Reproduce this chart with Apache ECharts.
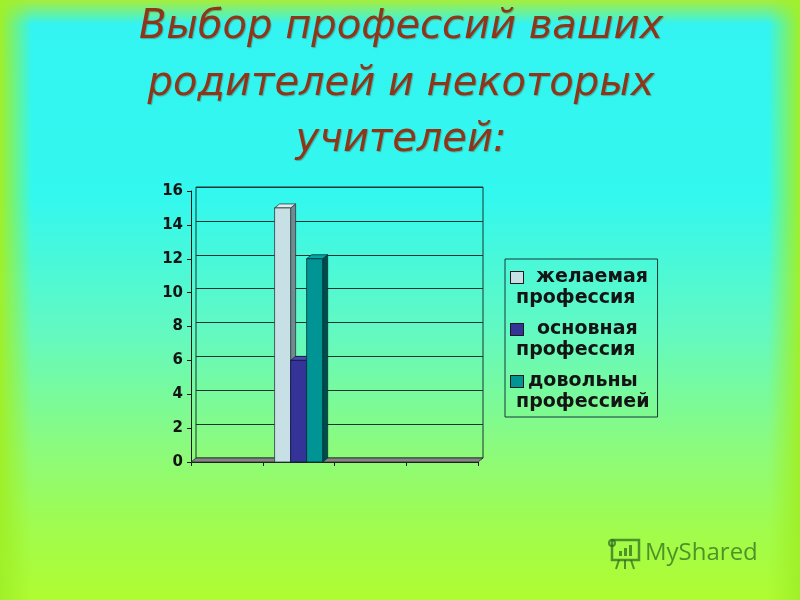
<!DOCTYPE html>
<html>
<head>
<meta charset="utf-8">
<script src="https://cdn.jsdelivr.net/npm/echarts@6/dist/echarts.min.js"></script>
<style>
html,body{margin:0;padding:0;}
#main{width:800px;height:600px;}
</style>
</head>
<body>
<div id="main"></div>
<script>
// ---- data ----
var titleLines = ['Выбор профессий ваших', 'родителей и некоторых', 'учителей:'];
var categories = ['1', '2', '3', '4'];
var seriesNames = ['желаемая профессия', 'основная профессия', 'довольны профессией'];
var desiredValues = [0, 15, 0, 0];
var mainValues = [0, 6, 0, 0];
var satisfiedValues = [0, 12, 0, 0];
var yTicks = [0, 2, 4, 6, 8, 10, 12, 14, 16];

var DX = 5, DY = -4;
var barFaces = [
  {front: '#c6e0e6', side: '#6f8c90', top: '#dceef0', stroke: '#2a3a3c'},
  {front: '#343498', side: '#1f1f66', top: '#4a4ab0', stroke: '#151540'},
  {front: '#009494', side: '#004c4c', top: '#00a8a8', stroke: '#003333'}
];

function barRenderer(idx) {
  return function (params, api) {
    var v = api.value(1);
    if (!v) return;
    var cat = api.value(0);
    var base = api.coord([cat, 0]);
    var top = api.coord([cat, v]);
    var band = api.size([1, 0])[0];
    var groupW = band * 0.67;
    var bw = groupW / 3;
    var x0 = base[0] - groupW / 2 + idx * bw;
    var x1 = x0 + bw;
    var yb = base[1], yt = top[1];
    var f = barFaces[idx];
    return {
      type: 'group',
      children: [
        {type: 'polygon', shape: {points: [[x1, yt], [x1 + DX, yt + DY], [x1 + DX, yb + DY], [x1, yb]]},
         style: {fill: f.side, stroke: f.stroke, lineWidth: 0.8}},
        {type: 'polygon', shape: {points: [[x0, yt], [x0 + DX, yt + DY], [x1 + DX, yt + DY], [x1, yt]]},
         style: {fill: f.top, stroke: f.stroke, lineWidth: 0.8}},
        {type: 'rect', shape: {x: x0, y: yt, width: bw, height: yb - yt},
         style: {fill: f.front, stroke: f.stroke, lineWidth: 0.8}}
      ]
    };
  };
}

function floorRenderer(params, api) {
  var band = api.size([1, 0])[0];
  var l = api.coord([0, 0]);
  var r = api.coord([categories.length - 1, 0]);
  var x0 = l[0] - band / 2, x1 = r[0] + band / 2, y = l[1];
  return {
    type: 'polygon',
    shape: {points: [[x0, y], [x1, y], [x1 + DX, y + DY], [x0 + DX, y + DY]]},
    style: {fill: '#858585', stroke: '#2b2b2b', lineWidth: 0.8}
  };
}

var chart = echarts.init(document.getElementById('main'));

var lineFont = {fontFamily: 'DejaVu Sans', fontWeight: 'bold', fontSize: 19, color: '#141414', lineHeight: 21};
var rich = {
  l2: Object.assign({padding: [0, 0, 0, 5]}, lineFont),
  a0: Object.assign({padding: [0, 0, 0, 13]}, lineFont),
  a1: Object.assign({padding: [0, 0, 0, 14]}, lineFont),
  a2: Object.assign({padding: [0, 0, 0, 5]}, lineFont)
};
barFaces.forEach(function (f, i) {
  rich['m' + i] = {width: 12, height: 11, backgroundColor: f.front, borderColor: '#1a1a1a', borderWidth: 1, lineHeight: 21};
});

var titleStyle = {
  fontFamily: 'DejaVu Sans', fontStyle: 'italic', fontSize: 40, fill: '#8e361a',
  textAlign: 'center', textVerticalAlign: 'middle',
  textShadowColor: 'rgba(60,20,0,0.3)', textShadowBlur: 1, textShadowOffsetX: 1, textShadowOffsetY: 1
};
var titleGraphics = titleLines.map(function (t, i) {
  return {type: 'text', z: 20, silent: true, x: 401, y: 28 + i * 56.5,
          style: Object.assign({text: t}, titleStyle)};
});

var wm = 'rgba(45,105,30,0.72)';
var option = {
  animation: false,
  graphic: [
    {type: 'rect', z: -100, silent: true, shape: {x: 0, y: 0, width: 800, height: 600},
     style: {fill: new echarts.graphic.LinearGradient(0, 0, 0, 1, [
       {offset: 0, color: '#a6ee3a'},
       {offset: 0.04, color: '#33f4f2'},
       {offset: 0.33, color: '#33f8ee'},
       {offset: 0.55, color: '#62f9c2'},
       {offset: 0.75, color: '#8cfb7c'},
       {offset: 0.88, color: '#a0fc4e'},
       {offset: 1, color: '#b0fc30'}
     ])}},
    {type: 'rect', z: -99, silent: true, shape: {x: 0, y: 0, width: 32, height: 600},
     style: {fill: new echarts.graphic.LinearGradient(0, 0, 1, 0, [
       {offset: 0, color: 'rgba(160,240,40,1)'},
       {offset: 0.35, color: 'rgba(160,240,40,0.65)'},
       {offset: 1, color: 'rgba(160,240,40,0)'}
     ])}},
    {type: 'rect', z: -99, silent: true, shape: {x: 768, y: 0, width: 32, height: 600},
     style: {fill: new echarts.graphic.LinearGradient(1, 0, 0, 0, [
       {offset: 0, color: 'rgba(160,240,40,1)'},
       {offset: 0.35, color: 'rgba(160,240,40,0.65)'},
       {offset: 1, color: 'rgba(160,240,40,0)'}
     ])}},
    {type: 'text', z: 10, silent: true, x: 645, y: 553,
     style: {text: 'MyShared', fontFamily: 'Open Sans', fontSize: 24, fill: wm, textVerticalAlign: 'middle'}},
    {type: 'group', z: 10, x: 608, y: 537, silent: true, children: [
      {type: 'rect', shape: {x: 4, y: 3, width: 27, height: 20}, style: {fill: 'none', stroke: wm, lineWidth: 2.5}},
      {type: 'circle', shape: {cx: 4, cy: 6, r: 3}, style: {fill: 'none', stroke: wm, lineWidth: 2}},
      {type: 'rect', shape: {x: 11, y: 14, width: 3, height: 5}, style: {fill: wm}},
      {type: 'rect', shape: {x: 16, y: 11, width: 3, height: 8}, style: {fill: wm}},
      {type: 'rect', shape: {x: 21, y: 8, width: 3, height: 11}, style: {fill: wm}},
      {type: 'polyline', shape: {points: [[11, 23], [8, 32]]}, style: {stroke: wm, lineWidth: 2}},
      {type: 'polyline', shape: {points: [[17, 23], [17, 32]]}, style: {stroke: wm, lineWidth: 2}},
      {type: 'polyline', shape: {points: [[23, 23], [26, 32]]}, style: {stroke: wm, lineWidth: 2}}
    ]}
  ].concat(titleGraphics),
  legend: {
    orient: 'vertical',
    left: 505, top: 259,
    padding: [8, 8, 4, 1],
    itemWidth: 0, itemHeight: 0,
    itemGap: 10,
    borderColor: '#173838', borderWidth: 1,
    selectedMode: false,
    data: seriesNames,
    formatter: function (name) {
      var i = seriesNames.indexOf(name);
      var parts = name.split(' ');
      return '{m' + i + '| }{a' + i + '|' + parts[0] + '}\n{l2|' + parts[1] + '}';
    },
    textStyle: Object.assign({rich: rich}, lineFont)
  },
  grid: [
    {left: 191, right: 322, top: 191, bottom: 138},
    {left: 196, right: 317, top: 187, bottom: 142, show: true, borderColor: '#183434', borderWidth: 1, backgroundColor: 'transparent', z: 0}
  ],
  xAxis: [
    {type: 'category', gridIndex: 0, data: categories, boundaryGap: true,
     axisLine: {show: true, lineStyle: {color: '#1a1a1a', width: 1}},
     axisTick: {show: true, alignWithLabel: false, length: 4, lineStyle: {color: '#1a1a1a'}},
     axisLabel: {show: false}, splitLine: {show: false}},
    {type: 'category', gridIndex: 1, data: categories, show: false}
  ],
  yAxis: [
    {type: 'value', gridIndex: 0, min: 0, max: 16, interval: 2,
     axisLine: {show: true, lineStyle: {color: '#1a1a1a', width: 1}},
     axisTick: {show: true, length: 4, lineStyle: {color: '#1a1a1a'}},
     axisLabel: {margin: 8, fontFamily: 'DejaVu Sans', fontWeight: 'bold', fontSize: 15, color: '#141414',
       formatter: function (v) { return yTicks.indexOf(v) >= 0 ? String(v) : ''; }},
     splitLine: {show: false}},
    {type: 'value', gridIndex: 1, min: 0, max: 16, interval: 2,
     axisLine: {show: false}, axisTick: {show: false}, axisLabel: {show: false},
     splitLine: {show: true, lineStyle: {color: '#183434', width: 1}}}
  ],
  series: [
    {type: 'custom', name: 'floor', xAxisIndex: 0, yAxisIndex: 0, z: 1, silent: true,
     renderItem: floorRenderer, data: [[0, 0]], encode: {x: 0, y: 1}},
    {type: 'custom', name: seriesNames[0], xAxisIndex: 0, yAxisIndex: 0, z: 3,
     itemStyle: {color: barFaces[0].front},
     renderItem: barRenderer(0), encode: {x: 0, y: 1},
     data: desiredValues.map(function (v, i) { return [i, v]; })},
    {type: 'custom', name: seriesNames[1], xAxisIndex: 0, yAxisIndex: 0, z: 3,
     itemStyle: {color: barFaces[1].front},
     renderItem: barRenderer(1), encode: {x: 0, y: 1},
     data: mainValues.map(function (v, i) { return [i, v]; })},
    {type: 'custom', name: seriesNames[2], xAxisIndex: 0, yAxisIndex: 0, z: 3,
     itemStyle: {color: barFaces[2].front},
     renderItem: barRenderer(2), encode: {x: 0, y: 1},
     data: satisfiedValues.map(function (v, i) { return [i, v]; })}
  ]
};
chart.setOption(option);
</script>
</body>
</html>
